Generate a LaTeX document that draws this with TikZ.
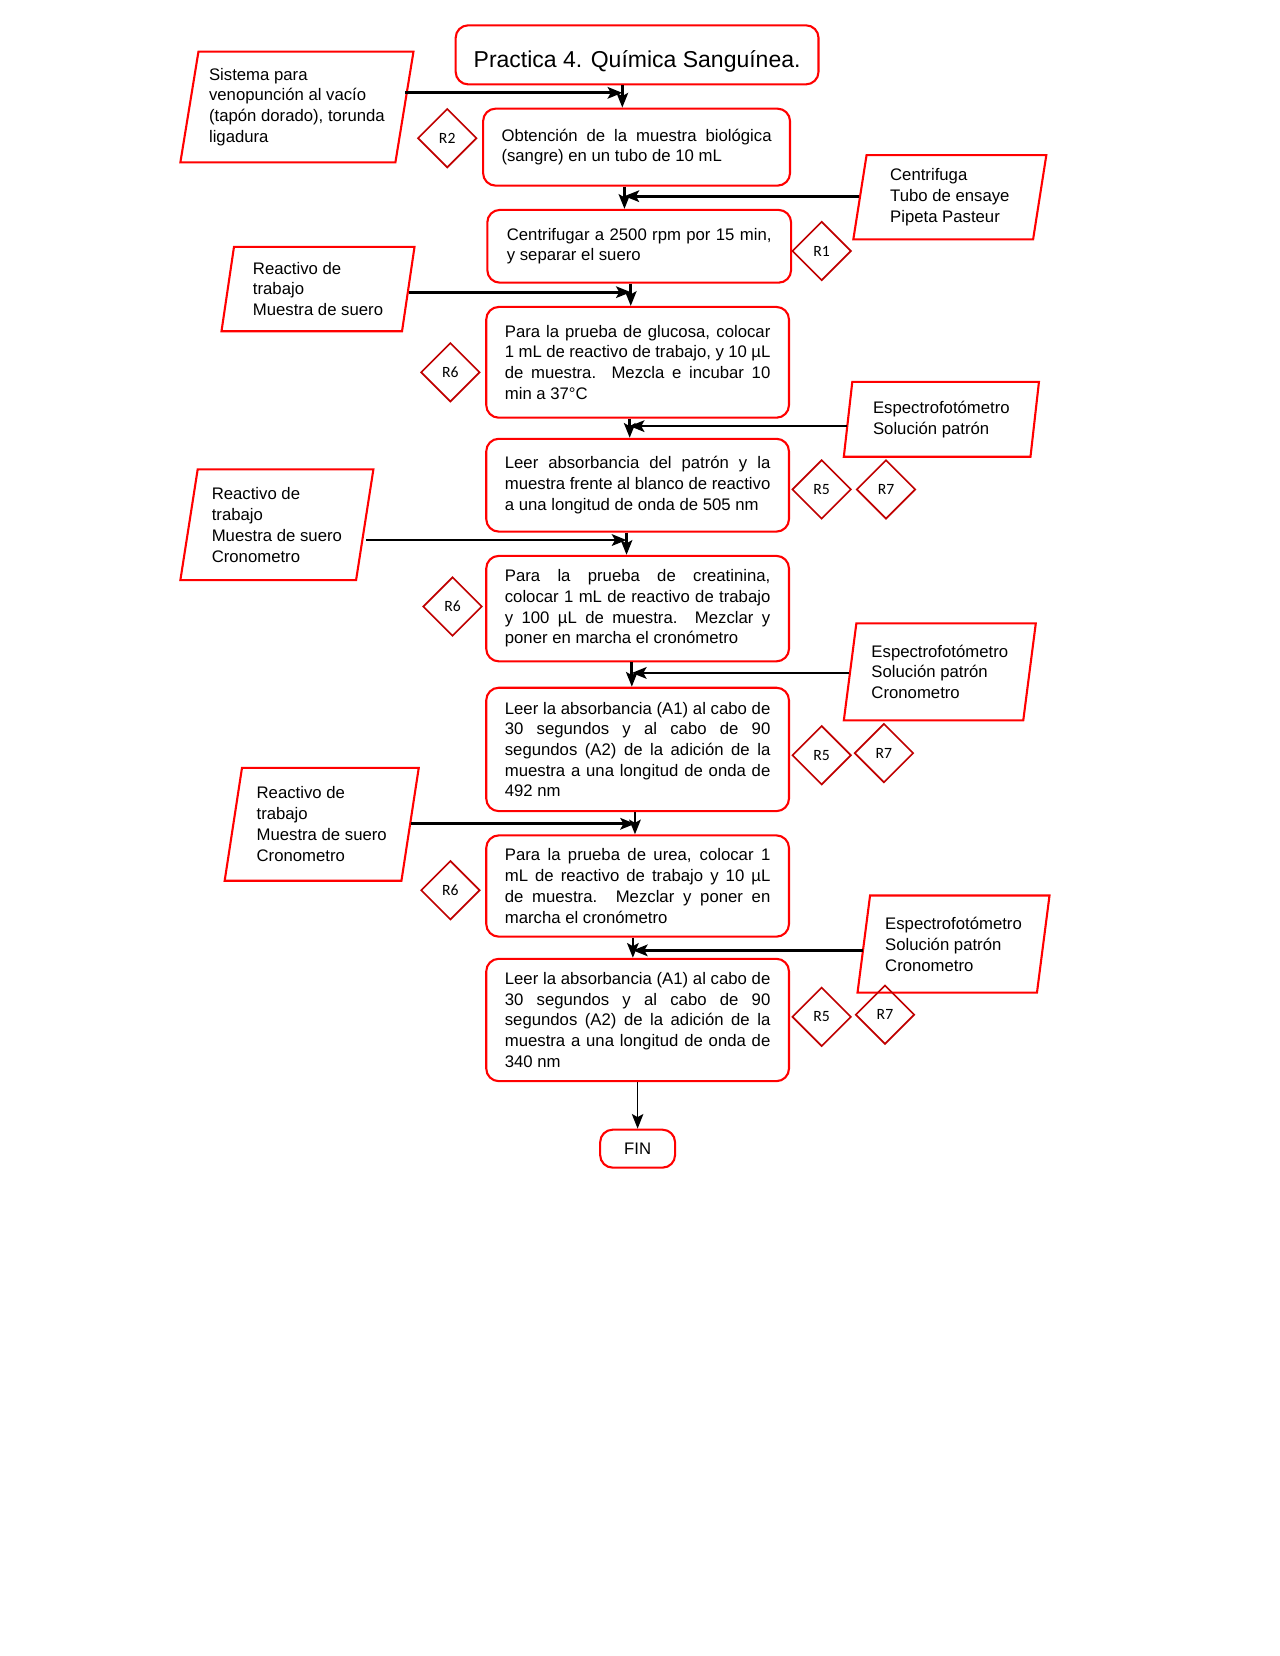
\documentclass[tikz,border=0pt]{standalone}
\usepackage{fontspec}
\setmainfont{Liberation Sans}
\newfontfamily\riskfont{Carlito}
\usetikzlibrary{shapes.geometric,arrows.meta}
\def\px{0.5045pt}
\definecolor{boxred}{RGB}{255,0,0}
\definecolor{riskred}{RGB}{192,0,0}
\tolerance=10000
\hbadness=10000

\begin{document}
\begin{tikzpicture}[x=\px,y=-\px,
    paso/.style={draw=boxred,line width=1pt,rounded corners=6pt,inner sep=0pt,
        align=justify,font=\fontsize{8}{9.9}\selectfont},
    entrada/.style={draw=boxred,line width=1pt,trapezium,trapezium left angle=77,
        trapezium right angle=103,trapezium stretches body,inner sep=0pt,
        align=left,font=\fontsize{8}{10}\selectfont},
    riesgo/.style={draw=riskred,line width=0.8pt,diamond,inner sep=0pt,
        minimum width=56*\px,minimum height=56*\px,font=\riskfont\fontsize{7.5}{8}\selectfont},
    flecha/.style={-{Stealth[length=7pt,width=5.5pt,inset=1.5pt]},line width=1.3pt}]
\fill[white] (0,0) rectangle (1213.5,1570);
% pasos del procedimiento
\node[paso,align=center,minimum width=344*\px,minimum height=56*\px,
    font=\fontsize{11}{13}\selectfont] (tit) at (604,52)
    {\raisebox{-6.2pt}[0pt][0pt]{Practica 4. Química Sanguínea.}};
\node[paso,minimum width=291*\px,minimum height=73*\px,text width=129.2pt] (b1) at (603.5,139.5)
    {Obtención de la muestra biológica\linebreak (sangre) en un tubo de 10 mL};
\node[paso,minimum width=288*\px,minimum height=69*\px,text width=126.6pt] (b2) at (606,233.5)
    {Centrifugar a 2500 rpm por 15 min,\linebreak y separar el suero};
\node[paso,minimum width=287*\px,minimum height=105*\px,text width=127pt] (b3) at (604.5,343.5)
    {Para la prueba de glucosa, colocar\linebreak 1 mL de reactivo de trabajo, y 10 µL\linebreak
     de muestra. Mezcla e incubar 10\linebreak min a 37°C};
\node[paso,minimum width=287*\px,minimum height=88*\px,text width=127pt] (b4) at (604.5,460)
    {Leer absorbancia del patrón y la\linebreak muestra frente al blanco de reactivo\linebreak
     a una longitud de onda de 505 nm};
\node[paso,minimum width=287*\px,minimum height=100*\px,text width=127pt] (b5) at (604.5,577)
    {Para la prueba de creatinina,\linebreak colocar 1 mL de reactivo de trabajo\linebreak
     y 100 µL de muestra. Mezclar y\linebreak poner en marcha el cronómetro};
\node[paso,minimum width=287*\px,minimum height=117*\px,text width=127pt] (b6) at (604.5,710.5)
    {Leer la absorbancia (A1) al cabo de\linebreak 30 segundos y al cabo de 90\linebreak
     segundos (A2) de la adición de la\linebreak muestra a una longitud de onda de\linebreak 492 nm};
\node[paso,minimum width=287*\px,minimum height=96*\px,text width=127pt] (b7) at (604.5,840)
    {Para la prueba de urea, colocar 1\linebreak mL de reactivo de trabajo y 10 µL\linebreak
     de muestra. Mezclar y poner en\linebreak marcha el cronómetro};
\node[paso,minimum width=287*\px,minimum height=116*\px,text width=127pt] (b8) at (604.5,967)
    {Leer la absorbancia (A1) al cabo de\linebreak 30 segundos y al cabo de 90\linebreak
     segundos (A2) de la adición de la\linebreak muestra a una longitud de onda de\linebreak 340 nm};
\node[paso,align=center,minimum width=71*\px,minimum height=36*\px] (fin) at (604.5,1089) {FIN};
% materiales
\node[entrada,minimum width=221*\px,minimum height=105*\px] (e1) at (281.5,101.5)
    {Sistema para\\venopunción al vacío\\(tapón dorado), torunda\\ligadura};
\node[entrada,minimum width=183*\px,minimum height=80*\px] (e2) at (900.5,187)
    {Centrifuga\\Tubo de ensaye\\Pipeta Pasteur};
\node[entrada,minimum width=183*\px,minimum height=80*\px] (e3) at (301.5,274)
    {Reactivo de\\trabajo\\Muestra de suero};
\node[entrada,minimum width=185*\px,minimum height=71*\px] (e4) at (892.5,397.5)
    {Espectrofotómetro\\Solución patrón};
\node[entrada,minimum width=183*\px,minimum height=105*\px] (e5) at (262.5,497.5)
    {Reactivo de\\trabajo\\Muestra de suero\\Cronometro};
\node[entrada,minimum width=182*\px,minimum height=92*\px] (e6) at (891,637)
    {Espectrofotómetro\\Solución patrón\\Cronometro};
\node[entrada,minimum width=184*\px,minimum height=107*\px] (e7) at (305,781.5)
    {Reactivo de\\trabajo\\Muestra de suero\\Cronometro};
\node[entrada,minimum width=182*\px,minimum height=92*\px] (e8) at (904,895)
    {Espectrofotómetro\\Solución patrón\\Cronometro};
% riesgos
\foreach \lbl/\x/\y [count=\i] in {R2/424/131,R1/779/238,R6/427/353,R5/779/464,R7/840/464,
    R6/429/575,R5/779/716,R7/838/714,R6/427/844,R5/779/964,R7/839/962}{
    \node[riesgo] (d\i) at (\x,\y) {\lbl};
}
% flechas
\foreach \a/\b/\e/\x/\y [count=\i] in {tit/b1/e1.east/590/88,b1/b2/e2.west/592/186,
    b2/b3/e3.east/598/277,b3/b4/e4.west/597/404,b4/b5/e5.east/594/512,
    b5/b6/e6.west/599/638,b6/b7/e7.east/602/781,b7/b8/e8.west/600/901}{
    \coordinate (j\i) at (\x,\y);
    \draw[flecha] (\a.south -| j\i) -- (\b.north -| j\i);
    \draw[flecha] (\e |- j\i) -- (j\i);
}
\draw[flecha,line width=0.8pt] (b8.south) -- (fin.north);
\end{tikzpicture}
\end{document}
